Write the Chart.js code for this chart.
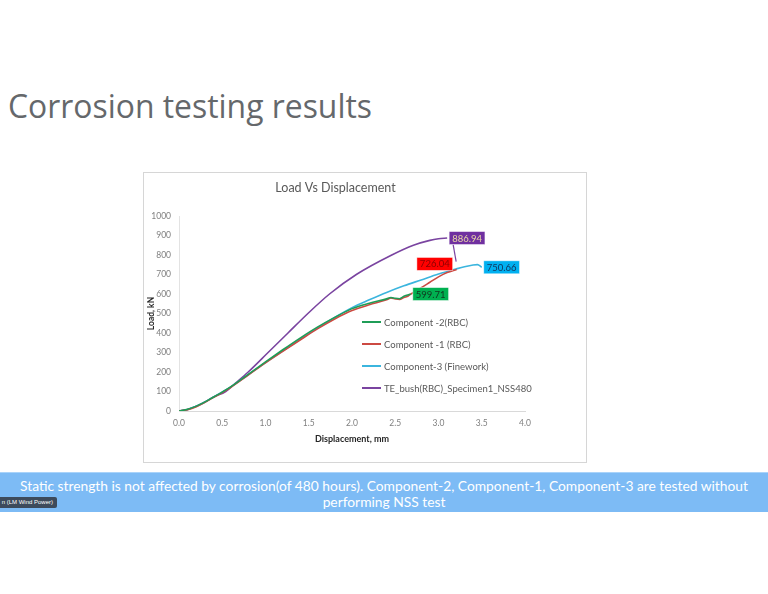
<!DOCTYPE html>
<html>
<head>
<meta charset="utf-8">
<script src="https://cdn.jsdelivr.net/npm/chart.js@4.4.1/dist/chart.umd.min.js"></script>
<style>
  html, body { margin:0; padding:0; background:#fff; width:768px; height:594px; overflow:hidden; }
  #title { position:absolute; left:8px; top:84px; font-family:"Open Sans", sans-serif; font-size:32px; color:#65686b; white-space:nowrap; transform-origin:0 0; }
  #box { position:absolute; left:143px; top:172px; width:442px; height:289px; border:1px solid #d6d6d6; background:#fff; }
  #banner { position:absolute; left:0; top:472px; width:768px; height:39px; background:#7dbbf5; border-top:1px solid #a9d3fa; }
  #banner div { position:absolute; width:768px; left:0; text-align:center; color:#fff; font-family:Lato, sans-serif; font-size:13.8px; white-space:nowrap; }
  #tag { position:absolute; left:0; top:497px; width:57px; height:11px; background:#3d4b5c; border-radius:0 2px 2px 0; color:#fff; font-family:"Liberation Sans Narrow", "Liberation Sans", sans-serif; font-size:6px; line-height:11px; white-space:nowrap; overflow:hidden; }
</style>
</head>
<body>
<div id="title">Corrosion testing results</div>
<div id="box"><canvas id="c" width="442" height="289"></canvas></div>
<div id="banner">
  <div id="l1" style="top:4px;">Static strength is not affected by corrosion(of 480 hours). Component-2, Component-1, Component-3 are tested without</div>
  <div id="l2" style="top:20px;">performing NSS test</div>
</div>
<div id="tag">&nbsp;n (LM Wind Power)</div>
<script>
// ---- Data ----
const seriesNames = ["Component -2(RBC)", "Component -1 (RBC)", "Component-3 (Finework)", "TE_bush(RBC)_Specimen1_NSS480"];

const comp2X = [0,0.1,0.2,0.3,0.4,0.5,0.6,0.8,1.0,1.2,1.4,1.6,1.8,2.0,2.2,2.4,2.45,2.5,2.55,2.6,2.68];
const comp2Y = [0,9,25,47,72,97,125,188,252,314,374,430,480,525,553,575,582,578,576,588,599.71];

const comp1X = [0,0.1,0.2,0.3,0.4,0.5,0.6,0.8,1.0,1.2,1.4,1.6,1.8,2.0,2.2,2.4,2.45,2.5,2.55,2.6,2.65,2.7,2.8,2.9,3.0,3.1,3.21];
const comp1Y = [0,7,22,44,70,95,122,184,247,306,364,421,472,515,545,570,580,575,572,582,590,605,632,660,688,710,726.04];

const comp3X = [0,0.1,0.2,0.3,0.4,0.5,0.6,0.8,1.0,1.2,1.4,1.6,1.8,2.0,2.2,2.4,2.6,2.8,3.0,3.2,3.3,3.4,3.45,3.5];
const comp3Y = [0,8,24,46,72,98,124,186,248,308,367,425,480,530,570,608,642,672,702,728,740,749,750.66,737];

const teX = [0,0.1,0.2,0.3,0.4,0.54,0.65,0.8,1.03,1.26,1.49,1.74,2.05,2.46,2.71,2.9,3.0,3.1];
const teY = [0,8,24,46,72,100,142,200,300,400,500,600,700,800,850,875,883,886.94];

const peakLabels = ["599.71", "726.04", "750.66", "886.94"];
const xTicks = [0,0.5,1.0,1.5,2.0,2.5,3.0,3.5,4.0];
const yTicks = [0,100,200,300,400,500,600,700,800,900,1000];

// ---- Styles ----
const lineColors = ["#1f9d57", "#cc4a42", "#3bb5de", "#7a44a0"];
const boxColors  = ["#00b050", "#ff0000", "#00b0f0", "#7030a0"];
const boxText    = ["#10361f", "#8a0000", "#12335a", "#e9d8a6"];
const placement  = ["right", "left", "right", "right"];

function pts(xs, ys){ return xs.map((x,i)=>({x:x, y:ys[i]})); }
const allX = [comp2X, comp1X, comp3X, teX];
const allY = [comp2Y, comp1Y, comp3Y, teY];

const datasets = seriesNames.map((n,i)=>({
  label:n, data:pts(allX[i], allY[i]), borderColor:lineColors[i], backgroundColor:lineColors[i],
  borderWidth:1.6, pointRadius:0, cubicInterpolationMode:'monotone', fill:false
}));

const labelPlugin = {
  id:'peakLabels',
  afterDatasetsDraw(chart){
    const ctx = chart.ctx;
    ctx.save();
    ctx.font = '9.5px Lato, sans-serif';
    ctx.textBaseline = 'middle';
    chart.data.datasets.forEach((ds,i)=>{
      const last = ds.data[ds.data.length-1];
      const px = chart.scales.x.getPixelForValue(last.x);
      const py = chart.scales.y.getPixelForValue(last.y);
      const txt = peakLabels[i];
      const w = ctx.measureText(txt).width + 6, h = 13;
      let bx, by;
      if (placement[i] === 'right') { bx = px + 2; by = py - h/2; }
      else { bx = px - 4 - w; by = py - h + 1; }
      if (i === 3) {
        ctx.strokeStyle = lineColors[3]; ctx.lineWidth = 1.2;
        ctx.beginPath(); ctx.moveTo(bx+4, by+h); ctx.lineTo(bx+7, by+h+17); ctx.stroke();
      }
      ctx.fillStyle = boxColors[i];
      ctx.fillRect(bx, by, w, h);
      ctx.strokeStyle = 'rgba(255,255,255,0.6)'; ctx.lineWidth = 0.8;
      ctx.strokeRect(bx, by, w, h);
      ctx.fillStyle = boxText[i];
      ctx.textAlign = 'left';
      ctx.fillText(txt, bx+3, by+h/2+0.5);
    });
    ctx.restore();
  }
};
const legendPlugin = {
  id:'innerLegend',
  afterDraw(chart){
    const ctx = chart.ctx;
    const ca = chart.chartArea;
    ctx.save();
    ctx.font = '9.5px Lato, sans-serif';
    ctx.textBaseline = 'middle';
    ctx.textAlign = 'left';
    const x0 = ca.left + 183, y0 = ca.top + 106, dy = 22;
    chart.data.datasets.forEach((ds,i)=>{
      const y = y0 + i*dy;
      ctx.strokeStyle = ds.borderColor; ctx.lineWidth = 2;
      ctx.beginPath(); ctx.moveTo(x0, y); ctx.lineTo(x0+19, y); ctx.stroke();
      ctx.fillStyle = '#595959';
      ctx.fillText(ds.label, x0+22, y+0.5);
    });
    ctx.restore();
  }
};

new Chart(document.getElementById('c'), {
  type:'line',
  data:{ datasets: datasets },
  options:{
    responsive:false, animation:false, devicePixelRatio:1,
    layout:{ padding:{ left:2, right:61, top:0, bottom:18 } },
    plugins:{
      legend:{ display:false },
      tooltip:{ enabled:false },
      title:{ display:true, text:'Load Vs Displacement', color:'#595959',
              font:{ family:'Lato, sans-serif', size:12.5, weight:'normal' }, padding:{ top:7, bottom:21 } }
    },
    scales:{
      x:{ type:'linear', min:0, max:4,
          afterBuildTicks(s){ s.ticks = xTicks.map(v=>({value:v})); },
          afterFit(s){ s.height = 33; },
          grid:{ display:false, drawTicks:false },
          border:{ display:true, color:'#d9d9d9', width:1 },
          ticks:{ color:'#808080', padding:7, font:{ family:'Lato, sans-serif', size:8.5 }, callback:v=>Number(v).toFixed(1), maxRotation:0 },
          title:{ display:true, text:'Displacement, mm', color:'#262626', font:{ family:'Lato, sans-serif', size:9, weight:'bold' }, padding:{ top:4, bottom:0 } } },
      y:{ type:'linear', min:0, max:1000,
          afterBuildTicks(s){ s.ticks = yTicks.map(v=>({value:v})); },
          afterFit(s){ s.width = 33; },
          grid:{ display:false, drawTicks:false },
          border:{ display:true, color:'#e3e3e3', width:1 },
          ticks:{ color:'#808080', padding:8, font:{ family:'Lato, sans-serif', size:8.5 }, callback:v=>String(v) },
          title:{ display:true, text:'Load, kN', color:'#262626', font:{ family:'Lato, sans-serif', size:8.5, weight:'bold' }, padding:{ top:0, bottom:2 } } }
    }
  },
  plugins:[labelPlugin, legendPlugin]
});

const t = document.getElementById('title');
const tw = t.getBoundingClientRect().width;
t.style.transform = 'scaleX(' + (364/tw) + ')';
</script>
</body>
</html>
